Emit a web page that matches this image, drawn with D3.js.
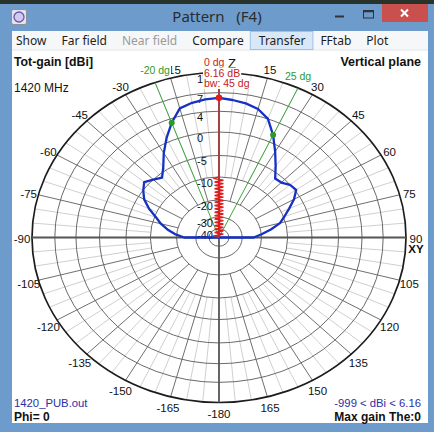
<!DOCTYPE html>
<html>
<head>
<meta charset="utf-8">
<script src="https://cdn.jsdelivr.net/npm/d3@7"></script>
<style>
body{margin:0;background:#fff;}
svg{display:block;}
text{font-family:"Liberation Sans",Arial,sans-serif;}
</style>
</head>
<body>
<svg id="pattern" width="434" height="432"></svg>
<script>
// vertical plane cut, theta from zenith (deg), total gain (dBi)
var thetas = [-95,-90,-85,-80,-75,-70,-65,-60,-55,-50,-45,-40,-35,-30,-25,-20,-15,-10,-5,0,
              5,10,15,20,25,30,35,40,45,50,55,60,65,70,75,80,85,90,95];
var gains  = [-999,-24,-19.3,-16.2,-13.2,-10.6,-8.25,-6.35,-5.1,-4.1,-5.05,-5.9,-4.2,-1.7,0.8,3.2,5.2,5.7,6.0,6.16,
              5.9,5.6,5.1,4.0,1.45,-1.35,-3.9,-6.15,-6.0,-5.05,-4.75,-6.3,-8.2,-9.8,-12.1,-16.1,-19.9,-24,-999];

// half power points
var bwAngles = [-20, 25];

// gain rings (dBi) and angle ticks
var ringValues = [10, 7, 4, 0, -5, -10, -20, -30, -40];
var angleTicks = [-165,-150,-135,-120,-105,-90,-75,-60,-45,-30,-15,15,30,45,60,75,90,105,120,135,150,165,180];
var angleLabels = ["-165","-150","-135","-120","-105","-90","-75","-60","-45","-30","-15","15","30","45","60","75","90","105","120","135","150","165","-180"];

var menuItems = ["Show","Far field","Near field","Compare","Transfer","FFtab","Plot"];

var pattern = thetas.map(function(t,i){ return {theta:t, gain:gains[i]}; });

var svg = d3.select("#pattern");

var makeTranslateString = function(x,y)
{
    return "translate("+x+","+y+")";
}

//window frame
var drawWindow = function()
{
    svg.append("rect").attr("x",0).attr("y",0).attr("width",434).attr("height",432).attr("fill","#6c9bcc");
    svg.append("rect").attr("x",0).attr("y",0).attr("width",434).attr("height",4).attr("fill","#27332b");

    // icon
    svg.append("rect").attr("x",11.5).attr("y",9.5).attr("width",15).attr("height",15)
        .attr("rx",2).attr("fill","#e4e4ea").attr("stroke","#8f8f9c");
    svg.append("circle").attr("cx",19).attr("cy",17).attr("r",5)
        .attr("fill","#cfcaee").attr("stroke","#6558b4").attr("stroke-width",1.3);

    svg.append("text").text("Pattern   (F4)")
        .attr("x",217).attr("y",22)
        .attr("text-anchor","middle")
        .style("white-space","pre")
        .style("font-family","'Noto Sans',sans-serif")
        .style("font-size","15px")
        .attr("fill","#2c2c2c");

    // caption buttons
    svg.append("line").attr("x1",335).attr("x2",344).attr("y1",16.5).attr("y2",16.5)
        .attr("stroke","#333").attr("stroke-width",2);
    svg.append("rect").attr("x",363.5).attr("y",10.5).attr("width",10).attr("height",7.5)
        .attr("fill","none").attr("stroke","#333").attr("stroke-width",1);
    svg.append("line").attr("x1",363.5).attr("x2",373.5).attr("y1",11.5).attr("y2",11.5)
        .attr("stroke","#333").attr("stroke-width",1.5);
    svg.append("rect").attr("x",382).attr("y",4).attr("width",46).attr("height",18).attr("fill","#c9504c");
    svg.append("path").attr("d","M401,9.5 L408,16.5 M408,9.5 L401,16.5")
        .attr("stroke","#fff").attr("stroke-width",2);

    // menu + client area
    svg.append("rect").attr("x",12).attr("y",31).attr("width",416).attr("height",19).attr("fill","#f6f7f8");
    svg.append("rect").attr("x",12).attr("y",50).attr("width",416).attr("height",373).attr("fill","#ffffff");
    svg.append("line").attr("x1",12).attr("x2",428).attr("y1",50).attr("y2",50).attr("stroke","#e2e4e6");

    var mx = 16;
    var menu = svg.append("g");
    menuItems.forEach(function(m){
        var t = menu.append("text").text(m)
            .attr("x",mx).attr("y",45)
            .style("font-family","'Noto Sans',sans-serif")
            .style("font-size","12px")
            .attr("fill", m=="Near field" ? "#9a9a9a" : "#1e1e1e");
        var w = t.node().getComputedTextLength();
        if (m=="Transfer")
        {
            menu.insert("rect","text").attr("x",mx-8.5).attr("y",31.5)
                .attr("width",w+16).attr("height",18)
                .attr("fill","#d9e8f8").attr("stroke","#9ec3ea");
        }
        mx = mx + w + 15;
    })
}

//geometry of the polar plot (screen is a little squashed vertically)
var cx = 219, cy = 237.5, RX = 187, RY = 165;
var xScale = d3.scaleLinear().domain([-1,1]).range([cx-RX, cx+RX]);
var yScale = d3.scaleLinear().domain([-1,1]).range([cy+RY, cy-RY]);
var rScale = d3.scaleLinear()
    .domain([-50,-40,-30,-20,-10,-5,0,4,7,10])
    .range([0,0.053,0.124,0.227,0.367,0.497,0.639,0.765,0.878,1])
    .clamp(true);

var rad = function(a){ return a*Math.PI/180; }
var px = function(theta,r){ return xScale(r*Math.sin(rad(theta))); }
var py = function(theta,r){ return yScale(r*Math.cos(rad(theta))); }

var addBg = function(g, t)
{
    var b = t.node().getBBox();
    g.insert("rect", function(){ return t.node(); })
        .attr("x",b.x-1).attr("y",b.y+1).attr("width",b.width+2).attr("height",b.height-1)
        .attr("fill","#fff");
}

var drawGrid = function()
{
    var grid = svg.append("g");

    // light spokes every 5 deg, darker every 15
    d3.range(0,360,5).forEach(function(a){
        if (a%90==0) return;
        var heavy = (a%15==0);
        var r0 = heavy ? rScale(-20) : rScale(-10);
        grid.append("line")
            .attr("x1",px(a,r0)).attr("y1",py(a,r0))
            .attr("x2",px(a,1)).attr("y2",py(a,1))
            .attr("stroke", heavy ? "#6f6f6f" : "#d0d0d0")
            .attr("stroke-width",1);
    })

    grid.selectAll("ellipse")
        .data(ringValues)
        .enter()
        .append("ellipse")
        .attr("cx",cx).attr("cy",cy)
        .attr("rx",function(d){ return xScale(rScale(d))-cx; })
        .attr("ry",function(d){ return cy-yScale(rScale(d)); })
        .attr("fill","none")
        .attr("stroke",function(d,i){ return i==0 ? "#1c1c1c" : "#6a6a6a"; })
        .attr("stroke-width",function(d,i){ return i==0 ? 1.7 : 1; });

    // main axes
    grid.append("line").attr("x1",xScale(-1)).attr("x2",xScale(1)).attr("y1",cy).attr("y2",cy)
        .attr("stroke","#555").attr("stroke-width",1.8);
    grid.append("line").attr("x1",cx).attr("x2",cx).attr("y1",yScale(1)).attr("y2",yScale(-1))
        .attr("stroke","#555").attr("stroke-width",1.8);
}

var drawBeamLines = function()
{
    var g = svg.append("g");
    bwAngles.forEach(function(a){
        g.append("line")
            .attr("x1",cx).attr("y1",cy)
            .attr("x2",px(a,1)).attr("y2",py(a,1))
            .attr("stroke","#3ca83c").attr("stroke-width",1);
    })
}

var drawRingLabels = function()
{
    var g = svg.append("g");
    g.selectAll("text")
        .data(ringValues)
        .enter()
        .append("text")
        .text(function(d){ return d; })
        .attr("x",cx-22)
        .attr("y",function(d){ return yScale(rScale(d))+10; })
        .style("font-size","11px")
        .attr("fill","#111");
}

var drawAngleLabels = function()
{
    var g = svg.append("g");
    g.selectAll("text")
        .data(angleTicks)
        .enter()
        .append("text")
        .text(function(d,i){ return angleLabels[i]; })
        // -15 sits a bit right, its minus ends up under the "-20 dg" marker text
        .attr("x",function(d){ return cx+(RX+10)*Math.sin(rad(d)) + (d==-15 ? 4.5 : 0); })
        .attr("y",function(d){ return cy-(RY+10)*Math.cos(rad(d))+5.5; })
        .attr("text-anchor","middle")
        .style("font-size","11.5px")
        .attr("fill","#111");

    g.append("text").text("Z")
        .attr("x",cx+9).attr("y",yScale(1)-4.5)
        .style("font-size","13px")
        .attr("fill","#111");
    g.append("text").text("XY")
        .attr("x",cx+RX+10).attr("y",cy+15)
        .attr("text-anchor","middle")
        .style("font-size","11.5px").style("font-weight","bold")
        .attr("fill","#111");
}

var drawPattern = function()
{
    var lineGenerator = d3.line()
        .x(function(d){ return px(d.theta, rScale(d.gain)); })
        .y(function(d){ return py(d.theta, rScale(d.gain)); });

    svg.append("path")
        .datum(pattern)
        .attr("d",lineGenerator)
        .attr("fill","none")
        .attr("stroke","#1630c4")
        .attr("stroke-width",2.3)
        .attr("stroke-linejoin","round");
}

var drawMarkers = function()
{
    var maxGain = d3.max(pattern,function(d){ return d.gain; });
    var maxPt = pattern.find(function(d){ return d.gain==maxGain; });
    var g = svg.append("g");

    // direction of max gain
    g.append("line")
        .attr("x1",cx).attr("x2",cx)
        .attr("y1",yScale(1)+16).attr("y2",cy)
        .attr("stroke","#d22a2a").attr("stroke-width",1.1);

    // red spring down the axis
    var top = py(0,rScale(-10)), steps = 36;
    var zig = d3.range(steps+1).map(function(i){
        return [cx + (i==0||i==steps ? 0 : (i%2 ? -4.4 : 4.4)), top + i*(cy-top)/steps];
    });
    g.append("path").attr("d",d3.line()(zig))
        .attr("fill","none").attr("stroke","#e01c1c").attr("stroke-width",1.4);

    g.append("circle")
        .attr("cx",px(maxPt.theta,rScale(maxPt.gain)))
        .attr("cy",py(maxPt.theta,rScale(maxPt.gain)))
        .attr("r",3.3).attr("fill","#e01c1c");

    bwAngles.forEach(function(a){
        var p = pattern.find(function(d){ return d.theta==a; });
        g.append("circle")
            .attr("cx",px(a,rScale(p.gain)))
            .attr("cy",py(a,rScale(p.gain)))
            .attr("r",3).attr("fill","#2b9a2b");
    })

    // texts at top
    var info = [maxPt.theta+" dg", maxGain.toFixed(2)+" dB", "bw: "+(bwAngles[1]-bwAngles[0])+" dg"];
    info.forEach(function(s,i){
        var t = g.append("text").text(s)
            .attr("x",cx-15).attr("y",66+i*10.5)
            .style("font-size","10.5px")
            .attr("fill","#c42222");
        addBg(g,t);
    })

    bwAngles.forEach(function(a){
        var t = g.append("text").text(a+" dg")
            .attr("x",px(a,1)).attr("y",py(a,1)-8)
            .attr("text-anchor","middle")
            .style("font-size","10.5px")
            .attr("fill","#2e9a2e");
        addBg(g,t);
    })
    return maxGain;
}

var drawLabels = function(maxGain)
{
    var labels = svg.append("g");
    labels.append("text").text("Tot-gain [dBi]")
        .attr("x",14).attr("y",66)
        .style("font-size","12.3px").style("font-weight","bold").attr("fill","#111");
    labels.append("text").text("1420 MHz")
        .attr("x",14).attr("y",92)
        .style("font-size","12px").attr("fill","#111");
    labels.append("text").text("Vertical plane")
        .attr("x",421).attr("y",66).attr("text-anchor","end")
        .style("font-size","12.5px").style("font-weight","bold").attr("fill","#111");

    labels.append("text").text("1420_PUB.out")
        .attr("x",14).attr("y",407)
        .style("font-size","11.3px").attr("fill","#2d2da6");
    labels.append("text").text("Phi= 0")
        .attr("x",14).attr("y",421)
        .style("font-size","12px").style("font-weight","bold").attr("fill","#111");
    labels.append("text").text(d3.min(gains)+" < dBi < "+maxGain)
        .attr("x",421).attr("y",407).attr("text-anchor","end")
        .style("font-size","11.3px").attr("fill","#2d2da6");
    labels.append("text").text("Max gain The:0")
        .attr("x",421).attr("y",421).attr("text-anchor","end")
        .style("font-size","12px").style("font-weight","bold").attr("fill","#111");
}

drawWindow();
drawGrid();
drawBeamLines();
drawRingLabels();
drawPattern();
drawAngleLabels();
var mg = drawMarkers();
drawLabels(mg);
</script>
</body>
</html>
